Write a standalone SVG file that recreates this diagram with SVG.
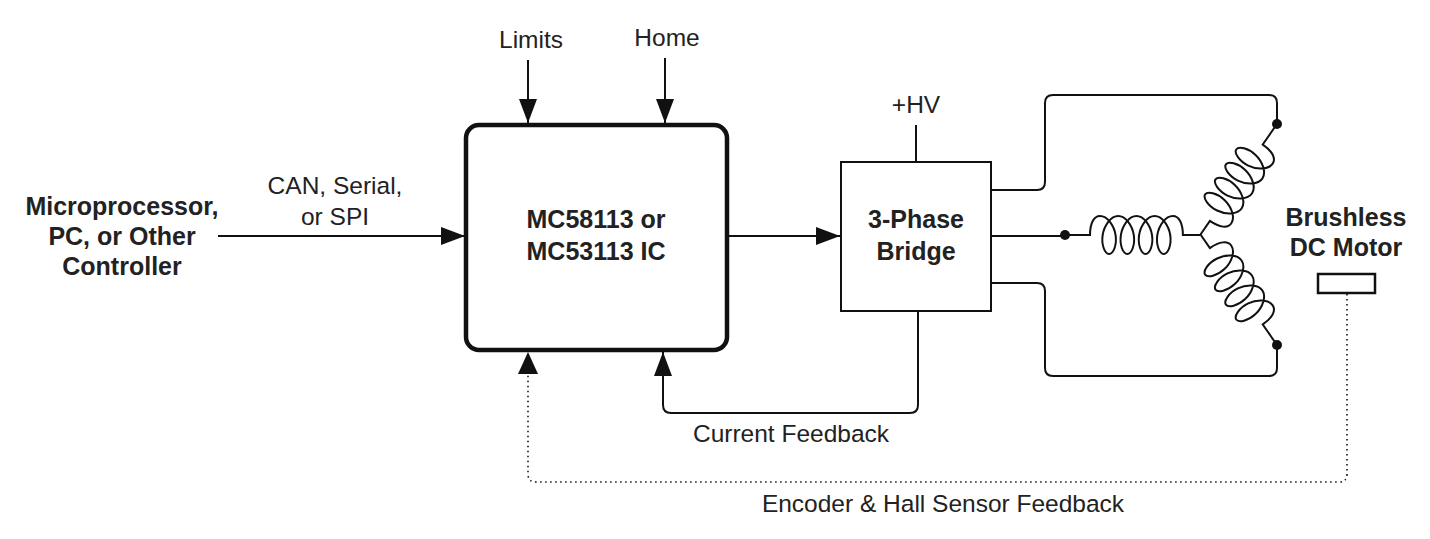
<svg xmlns="http://www.w3.org/2000/svg" width="1430" height="539" viewBox="0 0 1430 539">
<style>
text{font-family:"Liberation Sans",Arial,sans-serif;fill:#222;text-anchor:middle}
.b{font-weight:bold;font-size:25px}
.r{font-size:24.5px}
.ln{fill:none;stroke:#111;stroke-width:2}
.dot{fill:none;stroke:#111;stroke-width:1.6;stroke-dasharray:1.5 3.5}
</style>
<defs>
<marker id="ah" markerWidth="24" markerHeight="20" viewBox="0 0 24 20" refX="24" refY="10" orient="auto" markerUnits="userSpaceOnUse"><path d="M0,1 L24,10 L0,19 Z" fill="#111"/></marker>
<path id="coil" class="ln" d="M0,0 H25 c0,-12 4,-19 10,-19 c7.28,0 14.04,9.05 15.56,19 c1.52,9.95 -2.21,19 -6.45,19 c-4.24,0 -7.96,-9.05 -6.44,-19 c1.52,-9.95 8.27,-19 15.55,-19 c7.28,0 14.04,9.05 15.56,19 c1.52,9.95 -2.21,19 -6.45,19 c-4.24,0 -7.96,-9.05 -6.44,-19 c1.52,-9.95 8.27,-19 15.55,-19 c7.28,0 14.04,9.05 15.56,19 c1.52,9.95 -2.21,19 -6.45,19 c-4.24,0 -7.96,-9.05 -6.44,-19 c1.52,-9.95 8.27,-19 15.55,-19 c7.28,0 14.04,9.05 15.56,19 c1.52,9.95 -2.21,19 -6.45,19 c-4.24,0 -7.96,-9.05 -6.44,-19 c1.52,-9.95 8.27,-19 15.55,-19 c6,0 10,7 10,19 H135"/>
</defs>
<g id="controller"><text class="b" x="122" y="215">Microprocessor,</text><text class="b" x="122" y="245">PC, or Other</text><text class="b" x="122" y="275">Controller</text></g>
<g id="ic"><rect x="466" y="125" width="261" height="225" rx="13" fill="none" stroke="#111" stroke-width="4.5"/><text class="b" x="596" y="228">MC58113 or</text><text class="b" x="596" y="260">MC53113 IC</text></g>
<g id="bridge"><rect x="841" y="162" width="150" height="149" fill="none" stroke="#111" stroke-width="2"/><text class="b" x="916" y="228">3-Phase</text><text class="b" x="916" y="260">Bridge</text></g>
<g id="motor">
<text class="b" x="1346" y="226">Brushless</text><text class="b" x="1346" y="256">DC Motor</text>
<rect x="1318" y="274" width="57" height="19" fill="none" stroke="#111" stroke-width="2.5"/>
<use href="#coil" transform="translate(1065,235)"/>
<use href="#coil" transform="translate(1277,124) rotate(124.7)"/>
<use href="#coil" transform="translate(1277,345) rotate(-124.7) scale(1,-1)"/>
<circle cx="1065" cy="235" r="5" fill="#111"/><circle cx="1277" cy="124" r="5" fill="#111"/><circle cx="1277" cy="345" r="5" fill="#111"/>
</g>
<g id="labels">
<text class="r" x="531" y="48">Limits</text><text class="r" x="667" y="46">Home</text>
<text class="r" x="916" y="113">+HV</text>
<text class="r" x="335" y="194">CAN, Serial,</text><text class="r" x="335" y="225">or SPI</text>
<text class="r" x="791" y="442">Current Feedback</text>
<text class="r" x="943" y="512">Encoder &amp; Hall Sensor Feedback</text>
</g>
<g id="connectors">
<path class="ln" d="M218,236 H465" marker-end="url(#ah)"/>
<path class="ln" d="M729,236 H840" marker-end="url(#ah)"/>
<path class="ln" d="M528,60 V123" marker-end="url(#ah)"/>
<path class="ln" d="M665,58 V123" marker-end="url(#ah)"/>
<path class="ln" d="M916,125 V162"/>
<path class="ln" d="M918,311 V405 q0,8 -8,8 H671 q-8,0 -8,-8 V352" marker-end="url(#ah)"/>
<path class="dot" d="M1347,294 V474 q0,8 -8,8 H536 q-8,0 -8,-8 V360"/>
<path d="M528,352 L538,374 L518,374 Z" fill="#111"/>
<path class="ln" d="M992,190 H1037 q8,0 8,-8 V103 q0,-8 8,-8 H1269 q8,0 8,8 V124"/>
<path class="ln" d="M992,283 H1037 q8,0 8,8 V368 q0,8 8,8 H1269 q8,0 8,-8 V345"/>
<path class="ln" d="M992,236 H1065"/>
</g>
</svg>
